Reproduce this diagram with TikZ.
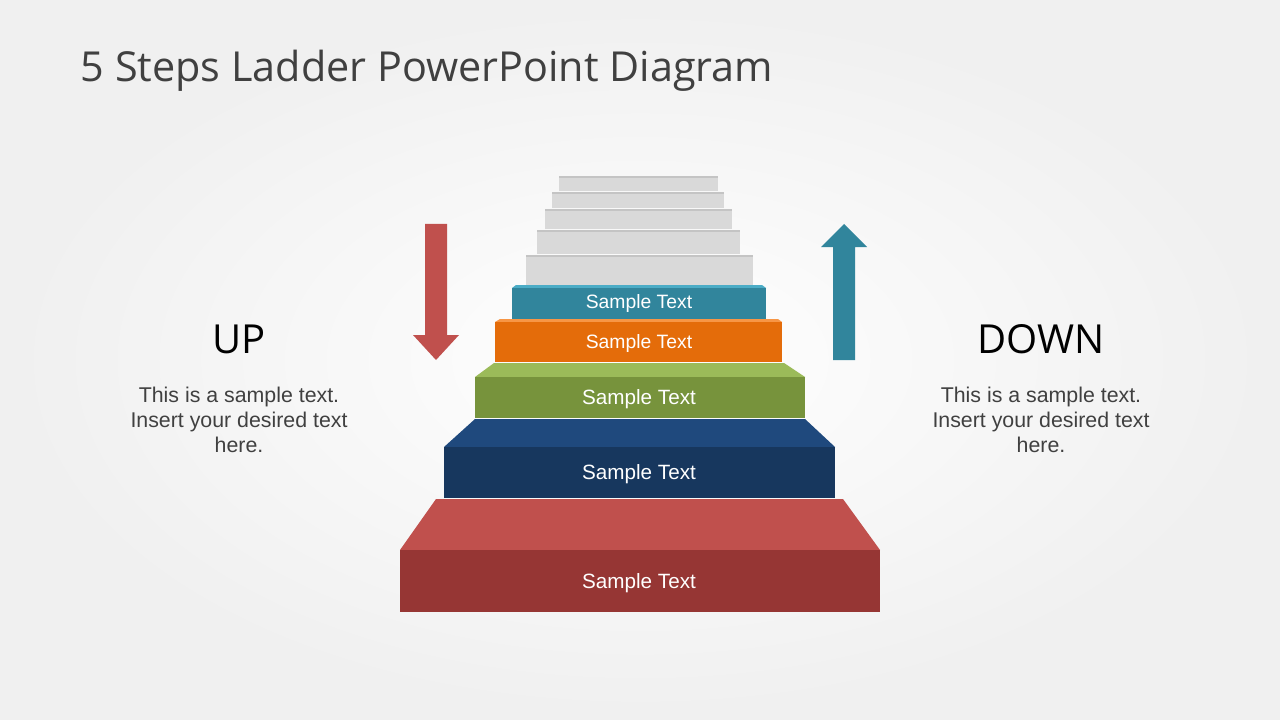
\documentclass[tikz,border=0pt]{standalone}
\usepackage{fontspec}
\setmainfont{Liberation Sans}
\newfontfamily\titlefont{Open Sans}
\definecolor{rF}{HTML}{963634}\definecolor{rT}{HTML}{C0504D}
\definecolor{nF}{HTML}{17375E}\definecolor{nT}{HTML}{1F497D}
\definecolor{gF}{HTML}{77933C}\definecolor{gT}{HTML}{9BBB59}
\definecolor{oF}{HTML}{E46C0A}\definecolor{oT}{HTML}{F79646}
\definecolor{tF}{HTML}{31859C}\definecolor{tT}{HTML}{4BACC6}
\definecolor{gr}{HTML}{D9D9D9}\definecolor{grd}{HTML}{C4C4C4}
\definecolor{txt}{HTML}{404040}
\tikzset{lbl/.style={text=white,font=\fontsize{14.5}{17}\selectfont},
body/.style={text=txt,align=center,font=\fontsize{16}{19}\selectfont},
head/.style={font=\titlefont\fontsize{30}{36}\selectfont}}
\begin{document}
\begin{tikzpicture}[x=0.75pt,y=-0.75pt]
\useasboundingbox (0,0) rectangle (1280,720);
\shade[inner color=white,outer color=gray!12] (0,0) rectangle (1280,720);
\node[head,text=txt,anchor=base west,font=\titlefont\fontsize{31}{36}\selectfont] (title) at (76,82) {5 Steps Ladder PowerPoint Diagram};
% grey steps
\foreach \a/\b/\c/\d in {559/718/176/191,552/724/192/208,545/732/209/229,537/740/230/254,526/753/255/285}{
 \fill[gr] (\a,\c) rectangle (\b,\d);
 \fill[grd] (\a,\c) rectangle (\b,\c+2);}
% teal
\fill[tT] (516,285) -- (762,285) -- (766,288) -- (512,288) -- cycle;
\fill[tF] (512,288) rectangle (766,319);
\node[lbl] (s5) at (639,304) {Sample Text};
% orange
\fill[oT] (500,319) -- (778,319) -- (782,322) -- (495,322) -- cycle;
\fill[oF] (495,322) rectangle (782,362);
\node[lbl] (s4) at (639,343) {Sample Text};
% green
\fill[gT] (494,363) -- (784,363) -- (805,377) -- (475,377) -- cycle;
\fill[gF] (475,377) rectangle (805,418);
\node[lbl,font=\fontsize{15.5}{18}\selectfont] (s3) at (639,399) {Sample Text};
% navy
\fill[nT] (475,419) -- (805,419) -- (835,447) -- (444,447) -- cycle;
\fill[nF] (444,447) rectangle (835,498);
\node[lbl,font=\fontsize{15.5}{18}\selectfont] (s2) at (639,474) {Sample Text};
% red
\fill[rT] (436,499) -- (843,499) -- (880,550) -- (400,550) -- cycle;
\fill[rF] (400,550) rectangle (880,612);
\node[lbl,font=\fontsize{15.5}{18}\selectfont] (s1) at (639,583) {Sample Text};
% arrows
\fill[rT] (425,224) -- (447,224) -- (447,335) -- (459,335) -- (436,360) -- (413,335) -- (425,335) -- cycle;
\fill[tF] (833,360) -- (855,360) -- (855,247) -- (867,247) -- (844,224) -- (821,247) -- (833,247) -- cycle;
% side texts
\node[head] (up) at (239,339) {UP};
\node[body] (upt) at (239,420) {This is a sample text.\\Insert your desired text\\here.};
\node[head] (down) at (1041,339) {DOWN};
\node[body] (downt) at (1041,420) {This is a sample text.\\Insert your desired text\\here.};
\end{tikzpicture}
\end{document}
